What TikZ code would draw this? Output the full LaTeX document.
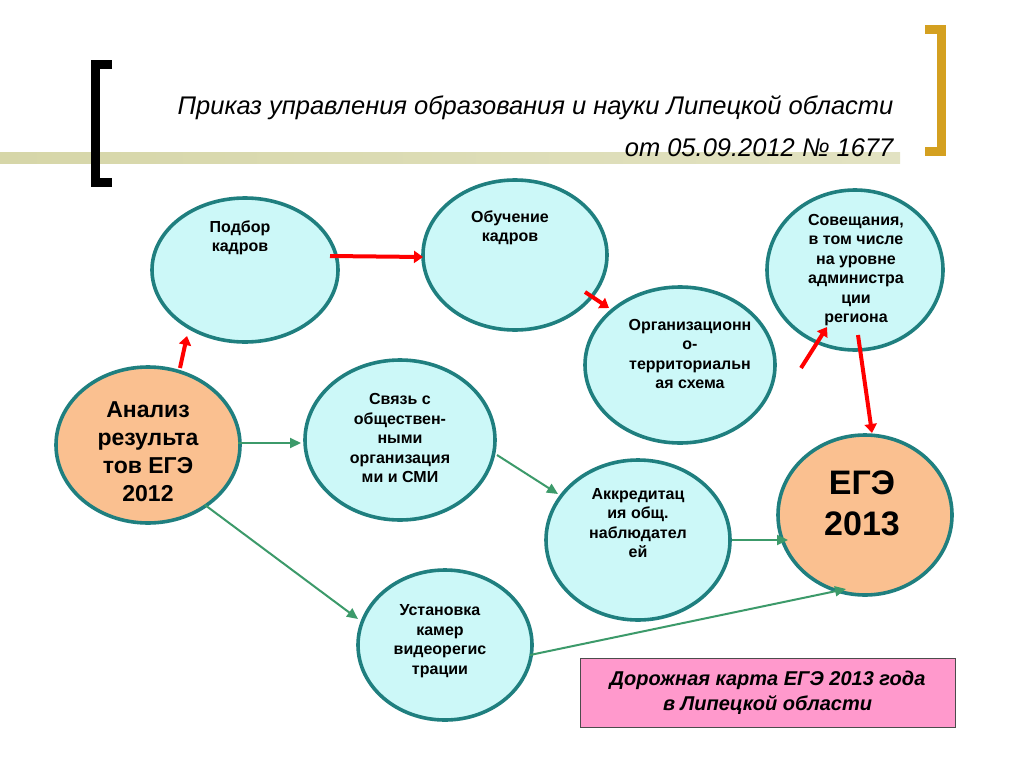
\documentclass[tikz,border=0pt]{standalone}
\usepackage{fontspec}
\setmainfont{Liberation Sans}
\usetikzlibrary{shapes.geometric,arrows.meta}
\definecolor{bubble}{HTML}{CCF8F8}
\definecolor{rim}{HTML}{1F7F7F}
\definecolor{peach}{HTML}{FAC090}
\definecolor{gold}{HTML}{D4A020}
\definecolor{bar}{HTML}{D6D6A8}
\definecolor{pinkbox}{HTML}{FF99CC}
\definecolor{linkgreen}{HTML}{3C9A6A}
\tikzset{
  blob/.style={ellipse, draw=rim, line width=3.6pt, fill=bubble, inner sep=0pt},
  hot/.style={blob, fill=peach},
  txt/.style={align=center, font=\fontsize{16}{19.5}\selectfont\bfseries},
  redarrow/.style={draw=red, line width=4pt, -{Triangle[length=9pt,width=12pt]}},
  greenarrow/.style={draw=linkgreen, line width=2pt, -{Triangle[length=11pt,width=10pt]}}
}
\begin{document}
\begin{tikzpicture}[x=1pt,y=-1pt]
\useasboundingbox (0,0) rectangle (1024,768);
\fill[white] (0,0) rectangle (1024,768);

% header
\fill[left color=bar, right color=bar!70] (0,152) rectangle (900,163);
\draw[line width=9pt] (112,64) -- (95,64) -- (95,182) -- (112,182);
\draw[gold, line width=9pt] (925,30) -- (941,30) -- (941,151) -- (925,151);
\node[anchor=east, font=\fontsize{25.5}{30}\selectfont\itshape] (title1) at (897,108) {Приказ управления образования и науки Липецкой области};
\node[anchor=east, font=\fontsize{25.5}{30}\selectfont\itshape] (title2) at (897,148) {от 05.09.2012 № 1677};

% bubbles
\node[blob, minimum width=186pt, minimum height=144pt] (podbor) at (245,270) {};
\node[blob, minimum width=184pt, minimum height=150pt] (obuch) at (515,255) {};
\node[blob, minimum width=176pt, minimum height=160pt] (sovesch) at (855,270) {};
\node[blob, minimum width=190pt, minimum height=156pt] (org) at (680,365) {};
\node[hot, minimum width=184pt, minimum height=156pt] (analiz) at (148,445) {};
\node[blob, minimum width=190pt, minimum height=160pt] (svyaz) at (400,440) {};
\node[blob, minimum width=184pt, minimum height=160pt] (akkr) at (638,540) {};
\node[hot, minimum width=174pt, minimum height=160pt] (ege) at (865,515) {};
\node[blob, minimum width=174pt, minimum height=150pt] (kamery) at (445,645) {};

% labels
\node[txt] (podborT) at (240,238) {Подбор\\кадров};
\node[txt] (obuchT) at (510,228) {Обучение\\кадров};
\node[txt] (sovT) at (856,270) {Совещания,\\в том числе\\на уровне\\администра\\ции\\региона};
\node[txt] (orgT) at (690,354) {Организационн\\о-\\территориальн\\ая схема};
\node[txt, font=\fontsize{23}{28}\selectfont\bfseries] (analizT) at (148,452) {Анализ\\результа\\тов ЕГЭ\\2012};
\node[txt, font=\fontsize{34}{41}\selectfont\bfseries] (egeT) at (862,503) {ЕГЭ\\2013};
\node[txt] (svyazT) at (400,438) {Связь с\\обществен-\\ными\\организация\\ми и СМИ};
\node[txt] (akkrT) at (638,523) {Аккредитац\\ия общ.\\наблюдател\\ей};
\node[txt] (kameryT) at (440,641) {Установка\\камер\\видеорегис\\трации};

% links
\draw[redarrow] (180,368) -- (187,336);
\draw[redarrow] (330,256) -- (423,257);
\draw[redarrow] (585,292) -- (609,308);
\draw[redarrow] (801,368) -- (827,327);
\draw[redarrow] (858,335) -- (872,433);
\draw[greenarrow] (238,443) -- (301,443);
\draw[greenarrow] (497,455) -- (558,494);
\draw[greenarrow] (205,505) -- (358,619);
\draw[greenarrow] (732,540) -- (788,540);
\draw[greenarrow] (530,655) -- (846,589);

% caption
\node[draw=black!70, line width=1pt, fill=pinkbox, minimum width=375pt, minimum height=69pt, align=center,
      font=\fontsize{20}{25}\selectfont\bfseries\itshape] (caption) at (767.5,692.5)
      {Дорожная карта ЕГЭ 2013 года\\в Липецкой области};
\end{tikzpicture}
\end{document}
